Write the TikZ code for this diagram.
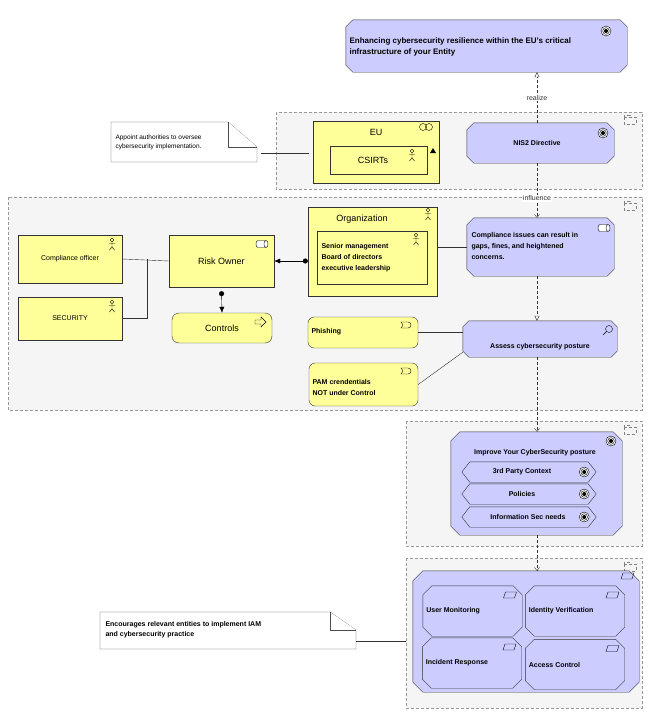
\documentclass[tikz,border=0pt]{standalone}
\usepackage{fontspec}
\setmainfont{Liberation Sans}
\usetikzlibrary{arrows.meta,positioning,calc}
\definecolor{bizyel}{HTML}{FFFF99}
\definecolor{motiv}{HTML}{CCCCFF}
\definecolor{grpfill}{HTML}{F5F5F5}
\newcommand{\actoricon}[1]{%
  \begin{scope}[shift={(#1)}]
  \draw[thin] (0,-3) circle (1.8) (0,-1.2) -- (0,4) (-3,0.5) -- (3,0.5)
    (-2.5,7) -- (0,4) -- (2.5,7);
  \end{scope}}
\newcommand{\goalicon}[1]{%
  \begin{scope}[shift={(#1)}]
  \draw[thin,fill=white] (0,0) circle (5); \draw[thin] (0,0) circle (3.3); \fill (0,0) circle (2);
  \end{scope}}
\newcommand{\eventicon}[1]{%
  \begin{scope}[shift={(#1)}]
  \draw[thin] (-5,-3) -- (2,-3) .. controls (6,-3) and (6,3) .. (2,3) -- (-5,3) -- (-3,0) -- cycle;
  \end{scope}}
\newcommand{\roleicon}[1]{%
  \begin{scope}[shift={(#1)}]
  \draw[thin,fill=white] (-4,-3.5) -- (4,-3.5) .. controls (6.7,-3.5) and (6.7,3.5) .. (4,3.5)
    -- (-4,3.5) .. controls (-6.7,3.5) and (-6.7,-3.5) .. (-4,-3.5) -- cycle;
  \draw[thin] (4,-3.5) .. controls (1.3,-3.5) and (1.3,3.5) .. (4,3.5);
  \end{scope}}
\newcommand{\capicon}[1]{%
  \begin{scope}[shift={(#1)}]
  \draw[thin] (-5,-3) -- (6,-3) -- (4,3) -- (-7,3) -- cycle;
  \end{scope}}
\newcommand{\groupicon}[1]{%
  \begin{scope}[shift={(#1)}]
  \draw[densely dashed,gray,thin] (-6,-3) rectangle (6,4) (-6,-3) -- (-6,-5) -- (0,-5) -- (0,-3);
  \end{scope}}
% motivation box: name, centre x, centre y, width, height, chamfer
\newcommand{\motibox}[6]{%
  \node[minimum width=#4pt,minimum height=#5pt,inner sep=0pt] (#1) at (#2,#3) {};
  \draw[moti] ([xshift=#6pt]#1.north west) -- ([xshift=-#6pt]#1.north east) -- ([yshift=-#6pt]#1.north east)
    -- ([yshift=#6pt]#1.south east) -- ([xshift=-#6pt]#1.south east) -- ([xshift=#6pt]#1.south west)
    -- ([yshift=#6pt]#1.south west) -- ([yshift=-#6pt]#1.north west) -- cycle;}
\begin{document}
\begin{tikzpicture}[x=1pt,y=-1pt,font=\fontsize{7}{9}\selectfont,
  grp/.style={draw=gray!80,densely dashed,fill=grpfill},
  busi/.style={draw=black!80,fill=bizyel},
  moti/.style={draw=black!80,fill=motiv},
  note/.style={draw=black!70,fill=white},
  target/.style={circle,draw,thin,fill=white,minimum size=10pt,inner sep=0pt},
  connect/.style={thin,black!80},
  realz/.style={thin,densely dashed,black!80,-{Triangle[open,length=5pt,width=5pt]}},
  infl/.style={thin,densely dashed,black!80,-{Straight Barb[length=3pt,width=5pt]}},
  assign/.style={thin,black,{Circle[length=5pt]}-{Latex[length=6pt,width=5pt]}}]
\useasboundingbox (0,0) rectangle (671,720);
\coordinate (axis) at (537,0);
% groups
\draw[grp] (276,112) rectangle (642,189); \groupicon{630,120}
\draw[grp] (8,197) rectangle (642,410); \groupicon{630,206}
\draw[grp] (406,421) rectangle (642,546); \groupicon{630,430}
\draw[grp] (406,558) rectangle (642,708); \groupicon{630,567}
% top goal
\motibox{goal}{486.5}{46}{281}{52}{7}
\node[anchor=west,align=left,font=\fontsize{8}{11}\selectfont\bfseries] (goaltxt) at (346,47)
  {Enhancing cybersecurity resilience within the EU's critical\\infrastructure of your Entity};
\goalicon{606,31}
% EU
\draw[busi] (313,121) rectangle (439,183);
\node[font=\fontsize{9}{10}\selectfont] (eu) at (376,132) {EU};
\draw[thin] (423,127) circle (3.5) (429,127) circle (3.5);
\node[busi,minimum width=97pt,minimum height=28pt,anchor=north west] (csirts) at (330,146) {};
\node[font=\fontsize{9}{10}\selectfont] (csirtstxt) at (373,160) {CSIRTs};
\actoricon{412,154}
\fill (433,148) -- (436,153) -- (430,153) -- cycle;
% NIS2
\motibox{nis}{540.5}{143}{147}{40}{7}
\node[font=\fontsize{7}{9}\selectfont\bfseries] (nistxt) at (537,143) {NIS2 Directive};
\goalicon{603,133}
% note 1
\draw[note] (111,122) -- (228,122) -- (257,147) -- (257,162) -- (111,162) -- cycle;
\draw[note] (228,122) -- (228,147) -- (257,147);
\node[anchor=west,align=left,font=\fontsize{6.5}{9}\selectfont] (note1) at (112,142)
  {Appoint authorities to oversee\\cybersecurity implementation.};
\coordinate (n1) at (261,153);
\draw[connect] (n1) -- (309,153);
% left actors
\node[busi,minimum width=104pt,minimum height=48pt] (officer) at (70,259) {Compliance officer};
\actoricon{112,243}
\node[busi,minimum width=104pt,minimum height=43pt] (security) at (70,318.5) {SECURITY};
\actoricon{112,305}
\node[busi,minimum width=105pt,minimum height=52pt,font=\fontsize{9}{10}\selectfont] (risk) at (221.5,261) {Risk Owner};
\roleicon{262,244}
\node[busi,rounded corners=7pt,minimum width=100pt,minimum height=30pt,font=\fontsize{9}{10}\selectfont] (controls) at (222,328) {Controls};
\draw[thin] (255,320) -- (261,320) -- (261,317) -- (266,322) -- (261,327) -- (261,324) -- (255,324) -- cycle;
% organization
\node[busi,minimum width=129pt,minimum height=89pt] (org) at (372.5,251.5) {};
\node[font=\fontsize{9}{10}\selectfont] (orgtxt) at (362,219) {Organization};
\actoricon{428,213}
\node[busi,minimum width=110pt,minimum height=53pt] (mgmt) at (372,257.5) {};
\node[anchor=west,align=left,font=\fontsize{7}{11}\selectfont\bfseries] (mgmttxt) at (318,258)
  {Senior management\\Board of directors\\executive leadership};
\actoricon{416,238}
% compliance
\motibox{compl}{540.5}{247}{147}{58}{7}
\node[anchor=west,align=left,font=\fontsize{7}{11}\selectfont\bfseries] (compltxt) at (468,246)
  { Compliance issues can result in\\gaps, fines, and heightened\\concerns.};
\roleicon{604,228}
% events
\node[busi,rounded corners=6pt,minimum width=110pt,minimum height=31pt] (phish) at (363,332.5) {};
\node[anchor=west,font=\fontsize{7}{9}\selectfont\bfseries] (phishtxt) at (308,332) {Phishing};
\eventicon{406,325}
\node[busi,rounded corners=6pt,minimum width=109pt,minimum height=43pt] (pam) at (363.5,384.5) {};
\node[anchor=west,align=left,font=\fontsize{7}{11}\selectfont\bfseries] (pamtxt) at (309,387) {PAM crendentials\\NOT under Control};
\eventicon{406,371}
% assess
\motibox{assess}{540}{339}{154}{36}{6}
\node[font=\fontsize{7}{9}\selectfont\bfseries] (assesstxt) at (540,347) {Assess cybersecurity posture};
\draw[thin] (609,329) circle (3.5) (606.5,331.5) -- (603,335);
% improve
\motibox{improve}{536.5}{483.5}{171}{103}{9}
\node[font=\fontsize{7}{9}\selectfont\bfseries] (improvetxt) at (535,453) {Improve Your CyberSecurity posture};
\goalicon{611,441}
\foreach \y/\t/\dx [count=\i] in {472/3rd Party Context/-7,494/Policies/-7,517/Information Sec needs/-1}{
  \node[minimum width=134pt,minimum height=20pt,inner sep=0pt] (sub\i) at (529,\y) {};
  \draw[moti] ([xshift=8pt]sub\i.north west) -- ([xshift=-8pt]sub\i.north east) -- (sub\i.east)
    -- ([xshift=-8pt]sub\i.south east) -- ([xshift=8pt]sub\i.south west) -- (sub\i.west) -- cycle;
  \node[font=\fontsize{7}{9}\selectfont\bfseries] (subtxt\i) at ([xshift=\dx pt]sub\i) {\t};
  \node[target] (tgt\i) at ([xshift=-12pt]sub\i.east) {};
  \draw[thin] (tgt\i) circle (3.3);
  \fill (tgt\i) circle (2);
}
% capabilities
\motibox{caps}{526}{631.5}{226}{121}{10}
\capicon{628,576}
\foreach \x/\y/\t/\n in {472.5/611/User Monitoring/um,575/611/Identity Verification/iv,472/663/Incident Response/ir,575/664.5/Access Control/ac}{
  \motibox{\n}{\x}{\y}{99}{50}{9}
  \node[anchor=west,font=\fontsize{7}{9}\selectfont\bfseries] (\n txt) at (\n.west) {\t};
  \capicon{$(\n)+(38,-16)$}}
% note 2
\draw[note] (100,612) -- (330,612) -- (356,630) -- (356,649) -- (100,649) -- cycle;
\draw[note] (330,612) -- (330,630) -- (356,630);
\node[anchor=west,align=left,font=\fontsize{7}{10}\selectfont\bfseries] (note2) at (102,630)
  { Encourages relevant entities to implement IAM\\and cybersecurity practice};
\coordinate (n2) at (406,641);
% connectors
\draw[realz] (nis.north -| axis) -- node[fill=white,inner sep=1pt,font=\fontsize{7}{9}\selectfont] (realizelbl) {realize} (goal.south -| axis);
\draw[infl] (nis.south -| axis) -- node[fill=white,inner sep=1pt,pos=0.64,font=\fontsize{7}{9}\selectfont] (infllbl) {influence} (compl.north -| axis);
\draw[connect] (officer.east) -- (risk.west);
\draw[connect] (security.east) -| (147,259);
\draw[assign] (org.west |- risk.east) -- (risk.east);
\draw[assign] ($(risk.south)+(0,4)$) -- (controls.north);
\draw[connect] ($(mgmt.east |- compl.west)+(10,0)$) -- (compl.west);
\draw[realz] (compl.south -| axis) -- (assess.north -| axis);
\draw[connect] (phish.east) -- (assess.west |- phish.east);
\draw[connect] (pam.east) -- ($(assess.south west)+(0,-5)$);
\draw[infl] (assess.south -| axis) -- (improve.north -| axis);
\draw[infl] (improve.south -| axis) -- (caps.north -| axis);
\draw[connect] (356,641) -- (n2);
\end{tikzpicture}
\end{document}
